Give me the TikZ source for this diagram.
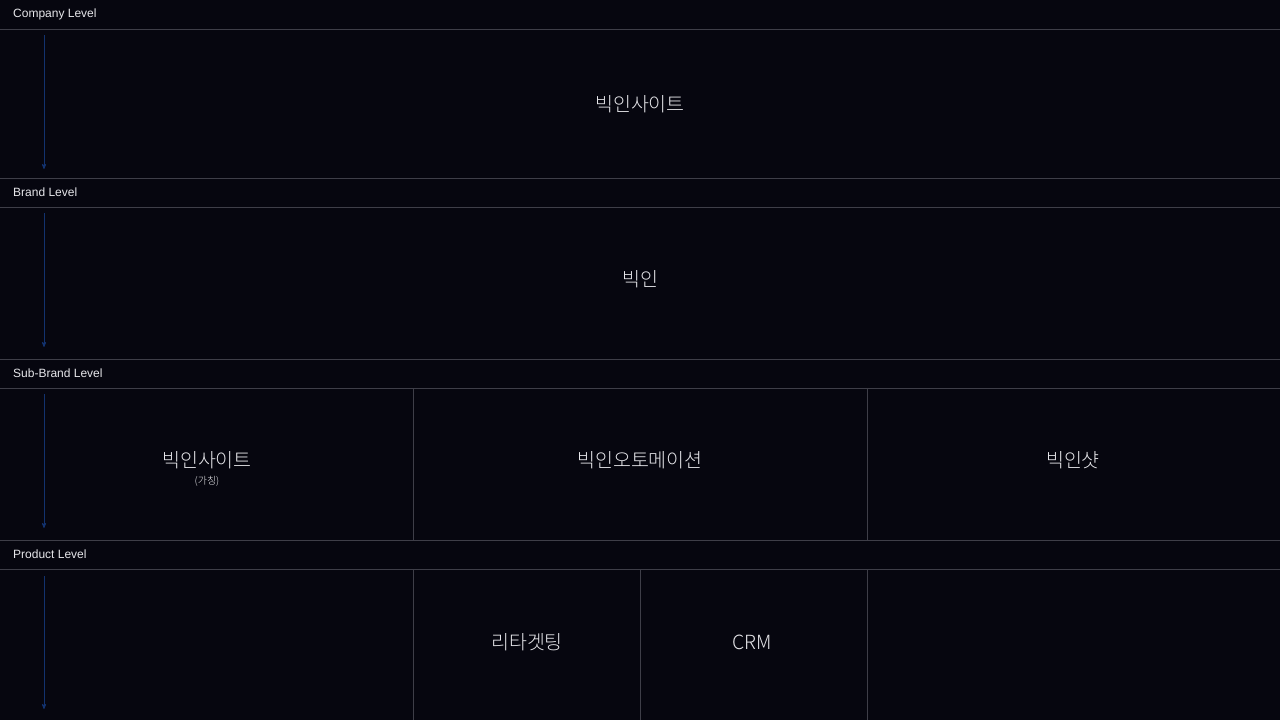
\documentclass[tikz,border=0pt]{standalone}
\usepackage{fontspec}
\setmainfont{Liberation Sans}
\newfontfamily\kofont{Noto Sans CJK KR Light}
\usetikzlibrary{positioning}
\usetikzlibrary{arrows}
\definecolor{bgdark}{HTML}{06060F}
\definecolor{gridline}{HTML}{3E3E48}
\definecolor{flowblue}{HTML}{12326E}
\definecolor{labelgray}{HTML}{E6E6EA}

\begin{document}
\begin{tikzpicture}[x=1pt, y=-1pt]
\tikzset{
    every node/.style = {inner sep=0pt, text=labelgray},
    level/.style = {anchor=west, font=\fontsize{12}{12}\selectfont},
    brand/.style = {font=\kofont\fontsize{19.5}{20}\selectfont},
    note/.style = {font=\kofont\fontsize{10}{10}\selectfont, text=labelgray!80},
    rule/.style = {draw=gridline, line width=1pt},
    flow/.style = {draw=flowblue, line width=0.8pt, ->, >=stealth', shorten >=0pt}
}

% -------------------------------------------------------
\fill[bgdark] (0,0) rectangle (1280,720);
\useasboundingbox (0,0) rectangle (1280,720);

% horizontal rules
\foreach \y in {29,178,207,359,388,540,569}
    \path[rule] (0,\y) -- (1280,\y);

% vertical rules
\path[rule] (413,388) -- (413,540);
\path[rule] (867,388) -- (867,540);
\path[rule] (413,569) -- (413,720);
\path[rule] (640,569) -- (640,720);
\path[rule] (867,569) -- (867,720);

% -------------------------------------------------------
\node[level] (company) at (13,14) {Company Level};
\node[level] (brand) at (13,192) {Brand Level};
\node[level] (subbrand) at (13,373) {Sub-Brand Level};
\node[level] (product) at (13,554) {Product Level};

\node[brand] (bigin) at (640,104) {빅인사이트};
\node[brand] (biginbrand) at (640,279) {빅인};
\node[brand] (insight) at (207,460) {빅인사이트};
\node[note, below=7pt of insight] (tentative) {(가칭)};
\node[brand] (automation) at (640,460) {빅인오토메이션};
\node[brand] (shot) at (1073,460) {빅인샷};
\node[brand] (retarget) at (527,642) {리타겟팅};
\node[brand] (crm) at (752,642) {CRM};

% -------------------------------------------------------
\coordinate (c1) at (44,35);   \coordinate (c2) at (44,169);
\coordinate (b1) at (44,213);  \coordinate (b2) at (44,347);
\coordinate (s1) at (44,394);  \coordinate (s2) at (44,528);
\coordinate (p1) at (44,576);  \coordinate (p2) at (44,709);

\draw[flow] (c1) -- (c2);
\draw[flow] (b1) -- (b2);
\draw[flow] (s1) -- (s2);
\draw[flow] (p1) -- (p2);
\end{tikzpicture}
\end{document}
